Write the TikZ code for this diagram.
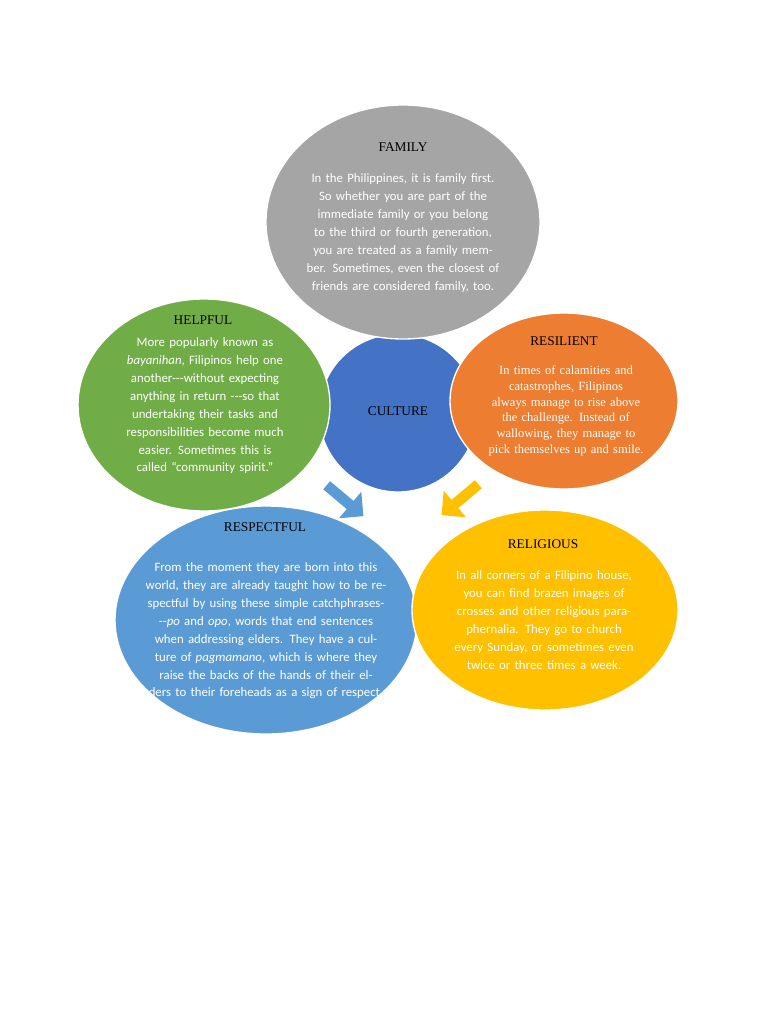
\documentclass[tikz,border=0pt]{standalone}
\usepackage{fontspec}
\setmainfont{Liberation Serif}
\newfontfamily\bodyfont{Carlito}
\usetikzlibrary{shapes.arrows}
\definecolor{cgray}{HTML}{A5A5A5}
\definecolor{cgreen}{HTML}{70AD47}
\definecolor{cblue}{HTML}{4472C4}
\definecolor{corange}{HTML}{ED7D31}
\definecolor{clight}{HTML}{5B9BD5}
\definecolor{cyellow}{HTML}{FFC000}
\begin{document}
\begin{tikzpicture}[x=0.75pt,y=-0.75pt,
  blob/.style={draw=white,line width=1pt},
  ttl/.style={font=\fontsize{10}{12}\selectfont,text=black},
  body/.style={font=\bodyfont\fontsize{9.6}{13.4}\selectfont,text=white,align=center},
  sbody/.style={font=\fontsize{9.4}{11.8}\selectfont,text=white,align=center},
  barrow/.style={single arrow,minimum height=36pt,minimum width=26pt,single arrow head extend=5pt,inner sep=2pt}]
\useasboundingbox (0,0) rectangle (768,1024);
\fill[white] (0,0) rectangle (768,1024);
% culture
\path[blob,fill=cblue] (398,413) circle (79);
\node[ttl] (cul) at (398,411) {CULTURE};
% family
\path[blob,fill=cgray] (403,222) ellipse (137 and 117);
\node[ttl] (famt) at (403,147) {FAMILY};
\node[body,text width=165pt] (famb) at (403,233) {In the Philippines, it is family first. So whether you are part of the immediate family or you belong to the third or fourth generation, you are treated as a family member. Sometimes, even the closest of friends are considered family, too.};
% helpful
\path[blob,fill=cgreen] (204,405) ellipse (126 and 106);
\node[ttl] (helt) at (203,320) {HELPFUL};
\node[body,text width=125pt] (helb) at (205,406) {More popularly known as \emph{bayanihan}, Filipinos help one another---without expecting anything in return ---so that undertaking their tasks and responsibilities become much easier. Sometimes this is called “community spirit.”};
% resilient
\path[blob,fill=corange] (564,401) ellipse (114 and 88);
\node[ttl] (rest) at (564,341) {RESILIENT};
\node[sbody,text width=120pt] (resb) at (566,411) {In times of calamities and catastrophes, Filipinos always manage to rise above the challenge. Instead of wallowing, they manage to pick themselves up and smile.};
% respectful
\path[blob,fill=clight] (266,620) ellipse (151 and 114);
\node[ttl] (rspt) at (265,527) {RESPECTFUL};
\node[body,text width=200pt] (rspb) at (266,631) {From the moment they are born into this world, they are already taught how to be respectful by using these simple catchphrases---\emph{po} and \emph{opo}, words that end sentences when addressing elders. They have a culture of \emph{pagmamano}, which is where they raise the backs of the hands of their elders to their foreheads as a sign of respect.};
% religious
\path[blob,fill=cyellow] (545,610) ellipse (133 and 100);
\node[ttl] (relt) at (543,544) {RELIGIOUS};
\node[body,text width=150pt] (relb) at (544,620) {In all corners of a Filipino house, you can find brazen images of crosses and other religious paraphernalia. They go to church every Sunday, or sometimes even twice or three times a week.};
% arrows
\node[barrow,fill=clight,rotate=-40] (a1) at (343,499) {};
\node[barrow,fill=cyellow,rotate=-140] (a2) at (462,498) {};
\end{tikzpicture}
\end{document}
